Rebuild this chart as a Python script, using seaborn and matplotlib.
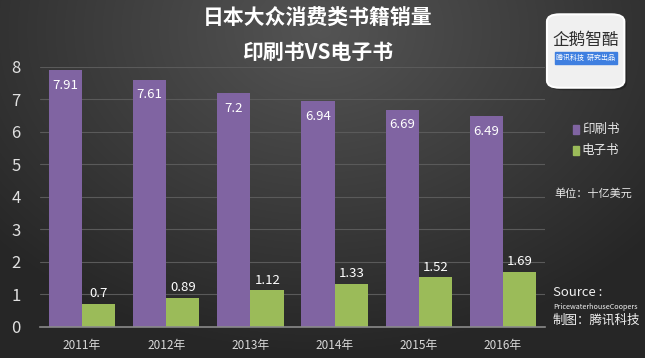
import numpy as np
import pandas as pd
import matplotlib
matplotlib.use("Agg")
import matplotlib.pyplot as plt
import seaborn as sns
from matplotlib.patches import FancyBboxPatch, Rectangle

# data
years = ["2011年", "2012年", "2013年", "2014年", "2015年", "2016年"]
print_sales = [7.91, 7.61, 7.2, 6.94, 6.69, 6.49]
ebook_sales = [0.7, 0.89, 1.12, 1.33, 1.52, 1.69]
series_names = ["印刷书", "电子书"]
colors = ["#8064A2", "#9BBB59"]

df = pd.DataFrame({
    "year": years * 2,
    "kind": [series_names[0]] * len(years) + [series_names[1]] * len(years),
    "value": print_sales + ebook_sales,
})

sns.set_theme(style="white")
plt.rcParams["font.family"] = ["Noto Sans CJK SC", "DejaVu Sans"]

fig = plt.figure(figsize=(6.45, 3.58), dpi=100)

# dark radial gradient background
bg = fig.add_axes([0, 0, 1, 1])
yy, xx = np.mgrid[0:358, 0:645]
r = np.sqrt(((xx - 320) / 480.0) ** 2 + ((yy - 30) / 360.0) ** 2)
shade = np.clip(0.33 - 0.2 * r, 0.15, 0.33)
bg.imshow(np.dstack([shade, shade, shade]), aspect="auto", extent=[0, 1, 0, 1])
bg.axis("off")

ax = fig.add_axes([0.062, 0.087, 0.783, 0.726])
ax.patch.set_alpha(0)
sns.barplot(data=df, x="year", y="value", hue="kind", palette=colors,
            width=0.79, saturation=1, linewidth=0, ax=ax, legend=False)

ax.set_ylim(0, 8)
ax.set_xlim(-0.5, 5.5)
ax.set_yticks(range(0, 9))
ax.yaxis.grid(True, color="#5a5a5a", linewidth=0.8)
ax.set_axisbelow(True)
for s in ["top", "right", "left"]:
    ax.spines[s].set_visible(False)
ax.spines["bottom"].set_color("#8a8a8a")
ax.spines["bottom"].set_linewidth(1.2)
ax.set_xlabel("")
ax.set_ylabel("")
ax.tick_params(axis="y", colors="#e0e0e0", labelsize=12, length=0, pad=14)
ax.tick_params(axis="x", colors="#d8d8d8", labelsize=8.5, length=0, pad=9)

# value labels
for i, v in enumerate(print_sales):
    ax.text(i - 0.2, v - 0.27, f"{v:g}", ha="center", va="top",
            color="white", fontsize=9.5)
for i, v in enumerate(ebook_sales):
    ax.text(i + 0.2, v + 0.12, f"{v:g}", ha="center", va="bottom",
            color="white", fontsize=9.5)

# titles
fig.text(0.493, 0.948, "日本大众消费类书籍销量", ha="center", va="center",
         color="white", fontsize=15, fontweight="bold")
fig.text(0.493, 0.853, "印刷书VS电子书", ha="center", va="center",
         color="white", fontsize=15, fontweight="bold")

# legend
for k, (name, c) in enumerate(zip(series_names, colors)):
    y = 0.638 - k * 0.058
    fig.patches.append(Rectangle((0.888, y - 0.012), 0.009, 0.024,
                                 transform=fig.transFigure, color=c))
    fig.text(0.902, y, name, ha="left", va="center", color="#e8e8e8", fontsize=9)

fig.text(0.86, 0.46, "单位：十亿美元", ha="left", va="center",
         color="#e8e8e8", fontsize=8)

fig.text(0.857, 0.182, "Source :", ha="left", va="center", color="#f0f0f0",
         fontsize=9.5, style="italic")
fig.text(0.857, 0.143, "PricewaterhouseCoopers", ha="left", va="center",
         color="#f0f0f0", fontsize=5.2, style="italic")
fig.text(0.857, 0.105, "制图：腾讯科技", ha="left", va="center",
         color="#f0f0f0", fontsize=9, style="italic")

# logo box
shadow = FancyBboxPatch((0.852, 0.748), 0.12, 0.205, transform=fig.transFigure,
                        boxstyle="round,pad=0,rounding_size=0.02",
                        facecolor="#1e1e1e", edgecolor="none", alpha=0.6)
fig.patches.append(shadow)
logo = FancyBboxPatch((0.848, 0.755), 0.12, 0.205, transform=fig.transFigure,
                      boxstyle="round,pad=0,rounding_size=0.02",
                      facecolor="#f0f0f0", edgecolor="white", linewidth=1.5)
fig.patches.append(logo)
fig.text(0.908, 0.888, "企鹅智酷", ha="center", va="center", color="#2e2e2e",
         fontsize=12)
fig.patches.append(Rectangle((0.86, 0.82), 0.097, 0.034,
                             transform=fig.transFigure, color="#3f7fe0"))
fig.text(0.908, 0.837, "腾讯科技  研究出品", ha="center", va="center",
         color="white", fontsize=5, style="italic")

fig.savefig("out.png", dpi=100)
